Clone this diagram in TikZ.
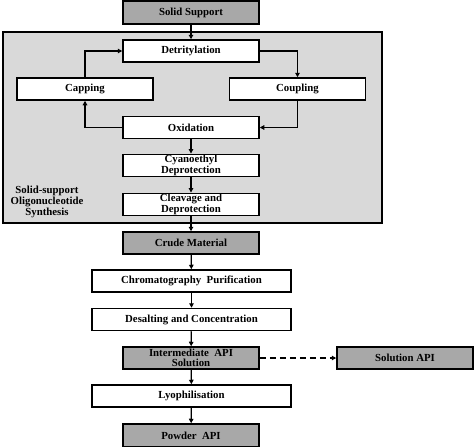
\documentclass[tikz,border=0pt]{standalone}
\usepackage{fontspec}
\setmainfont{Liberation Serif}
\usetikzlibrary{arrows.meta}
\definecolor{boxgray}{HTML}{A8A8A8}
\definecolor{areagray}{HTML}{D9D9D9}
\begin{document}
\begin{tikzpicture}[x=1pt, y=-1pt,
    stage/.style={draw, line width=1.5pt, fill=white, minimum width=136pt,
    minimum height=22pt, inner sep=1pt, align=center,
    font=\bfseries\fontsize{10.8}{10.6}\selectfont},
    widestage/.style={stage, minimum width=199pt},
    product/.style={stage, fill=boxgray},
    flow/.style={-{Triangle[length=4.5pt, width=4.5pt]}, line width=1.2pt}]

    \useasboundingbox (0,0) rectangle (474,447);

    % Synthesis area
    \node[draw, line width=1.5pt, fill=areagray, minimum width=379pt,
    minimum height=191pt, inner sep=0] (area) at (192.5, 127.5) {};
    \node[align=center, font=\bfseries\fontsize{10.8}{10.6}\selectfont]
    (arealabel) at (47, 202) {Solid-support\\Oligonucleotide\\Synthesis};

    % Synthesis cycle
    \node[product, minimum height=23pt] (support) at (191, 12.5) {Solid Support};
    \node[stage] (detrit) at (191, 51) {Detritylation};
    \node[stage] (capping) at (85, 89) {Capping};
    \node[stage] (coupling) at (297.5, 89) {Coupling};
    \node[stage] (oxid) at (191, 127.5) {Oxidation};
    \node[stage] (cyano) at (191, 165.5) {Cyanoethyl\\Deprotection};
    \node[stage] (cleave) at (191, 204.5) {Cleavage and\\Deprotection};

    % Downstream processing
    \node[product] (crude) at (191, 243) {Crude Material};
    \node[widestage] (chrom) at (191.5, 281) {Chromatography\ \ Purification};
    \node[widestage] (desalt) at (191.5, 319.5) {Desalting and Concentration};
    \node[product] (inter) at (191, 358) {Intermediate\ \ API\\Solution};
    \node[product] (solapi) at (405, 358) {Solution API};
    \node[widestage] (lyo) at (191.5, 396) {Lyophilisation};
    \node[product, minimum height=23pt] (powder) at (191, 435.5) {Powder\ \ API};

    \draw[flow] (support) -- (detrit);
    \draw[flow] (detrit.east) -| (coupling.north);
    \draw[flow] (coupling.south) |- (oxid.east);
    \draw[flow] (oxid.west) -| (capping.south);
    \draw[flow] (capping.north) |- (detrit.west);
    \draw[flow] (oxid) -- (cyano);
    \draw[flow] (cyano) -- (cleave);
    \draw[flow] (cleave) -- (crude);
    \draw[flow] (crude) -- (chrom);
    \draw[flow] (chrom) -- (desalt);
    \draw[flow] (desalt) -- (inter);
    \draw[flow, dash pattern=on 6pt off 4pt] (inter) -- (solapi);
    \draw[flow] (inter) -- (lyo);
    \draw[flow] (lyo) -- (powder);

\end{tikzpicture}
\end{document}
